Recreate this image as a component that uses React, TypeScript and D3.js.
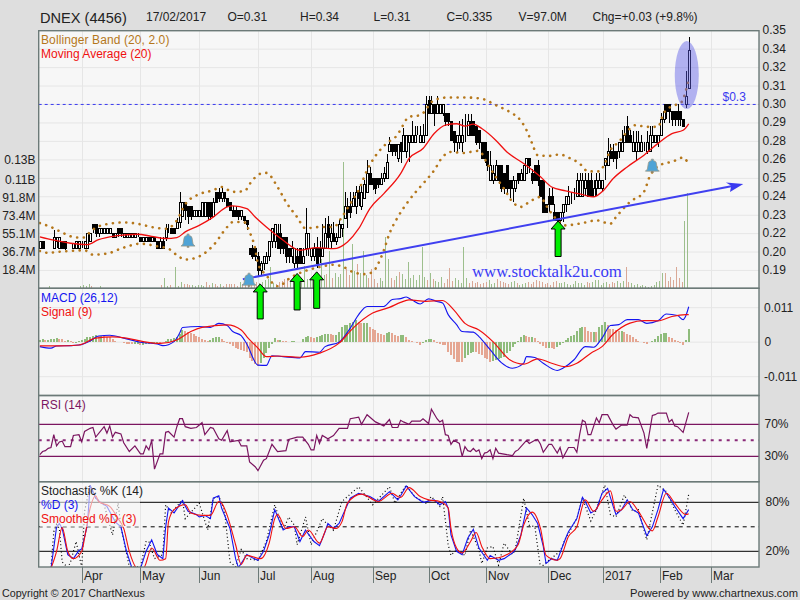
import React from "react";
import * as d3 from "d3";

// Prices are in thousandths of a ringgit (224 = 0.224)
const opens = [224,227,224,224,224,224,227,224,227,227,224,224,224,224,224,224,224,224,227,235,235,231,231,231,231,231,231,229,233,233,229,229,229,229,229,229,229,227,227,229,227,229,227,224,227,229,233,233,233,233,236,239,246,244,244,239,239,239,239,239,246,246,239,251,251,248,251,248,246,242,242,242,239,239,237,224,224,224,220,214,217,217,220,227,227,231,231,229,229,224,220,217,220,224,217,224,224,220,220,224,224,220,224,235,227,231,227,229,233,238,244,244,244,244,251,244,248,251,261,258,258,258,255,258,258,273,277,277,269,278,273,273,278,278,278,282,278,278,282,303,295,300,295,295,295,295,295,290,284,278,278,278,282,282,290,290,287,285,278,278,273,257,257,257,265,265,261,265,257,253,253,261,257,257,261,269,261,265,265,257,257,245,249,249,241,241,237,241,245,245,249,249,249,249,249,253,257,257,249,253,253,253,265,265,273,273,273,273,273,278,287,282,273,273,273,273,278,273,273,278,278,278,282,291,300,300,296,296,296,296,291,300,310];
const closes = [227,224,224,224,224,229,229,229,224,224,224,224,226,227,227,224,227,231,231,233,231,233,233,233,233,233,229,231,231,231,231,231,231,231,231,229,227,229,229,227,229,227,224,227,224,233,233,231,231,236,246,246,242,239,239,242,242,242,246,246,239,239,246,246,248,251,248,244,242,239,239,239,242,237,235,221,220,220,214,217,220,220,227,233,235,224,224,224,220,220,224,224,217,217,220,231,231,224,224,217,220,224,231,229,231,227,229,235,235,244,241,241,248,251,248,251,255,261,255,255,253,255,258,261,267,277,273,273,277,273,282,282,282,282,282,282,282,282,300,295,300,295,300,300,300,290,290,279,278,282,282,282,282,290,282,282,278,278,269,269,265,265,261,265,257,253,253,253,253,257,257,257,261,265,269,265,257,257,257,249,241,241,245,245,237,237,241,245,249,249,249,249,257,257,257,257,249,249,253,257,257,257,269,273,269,269,269,278,278,282,278,278,278,278,278,278,278,278,282,282,282,282,291,296,296,296,291,291,291,291,287,305,335];
const highs = [227,227,224,224,224,232,229,229,227,227,224,224,226,227,227,227,227,231,231,235,235,233,233,233,233,233,231,231,233,233,231,231,231,231,231,231,229,229,229,229,229,229,227,229,229,235,235,233,233,238,251,246,246,244,244,242,242,242,246,246,246,246,248,251,253,253,251,248,246,244,244,242,242,239,237,224,225,224,222,218,220,222,227,233,235,235,235,229,229,224,227,224,224,224,224,243,231,224,226,229,227,235,238,239,235,236,231,237,235,251,248,251,251,254,254,255,257,268,264,258,258,258,261,264,271,281,277,277,277,278,286,282,282,290,287,287,287,288,305,305,305,300,305,300,300,295,295,290,284,282,290,291,294,294,294,290,287,285,278,278,273,273,265,268,265,265,261,265,257,259,257,261,263,265,269,269,263,265,268,257,257,245,253,253,245,241,241,245,249,254,251,253,261,261,261,261,261,261,257,261,261,257,269,280,277,277,273,278,285,287,293,285,284,284,284,282,278,284,287,287,282,282,295,300,300,300,296,296,300,296,291,321,344];
const lows = [224,224,224,224,224,224,224,224,224,223,224,224,224,224,224,224,224,224,227,231,229,229,231,231,231,231,229,229,229,229,229,229,229,229,229,229,227,227,227,227,227,227,224,224,224,227,231,231,231,233,233,239,237,235,237,239,239,239,239,239,237,237,239,246,246,246,246,244,242,239,239,237,237,235,232,221,219,218,211,212,214,217,218,224,224,224,221,221,217,217,217,215,215,217,217,220,220,218,218,215,217,220,224,224,224,227,225,229,229,238,233,238,244,240,244,242,248,251,255,252,250,253,255,256,258,273,270,270,267,266,273,269,267,278,278,282,278,278,282,295,295,287,295,295,293,287,287,279,272,272,274,272,278,282,282,282,276,274,269,266,262,257,255,257,255,251,250,250,248,246,251,255,257,257,261,261,255,257,254,249,241,241,241,245,237,235,235,236,241,245,245,247,249,249,249,249,249,249,249,249,253,251,257,265,269,267,263,269,273,278,278,278,273,268,273,273,273,271,273,278,278,275,282,289,291,289,287,287,287,287,287,298,310];
const volumes = [0,0,0,0,2,0,0,0,0,0,0,0,0,0,0,2,3,2,4,2,0,0,2,0,0,0,0,0,0,0,0,0,0,0,0,0,0,0,0,0,0,0,0,0,3,10,2,3,0,22,2,6,4,4,3,3,2,3,3,2,6,3,5,4,2,4,2,4,4,4,4,2,6,4,3,9,5,4,6,5,6,8,9,22,5,4,6,7,9,10,7,12,8,8,10,23,9,9,12,15,14,30,14,15,38,10,16,12,15,128,20,14,45,18,25,16,38,14,10,20,9,5,10,7,52,30,10,8,13,17,15,9,27,10,14,8,14,42,12,8,16,9,7,6,11,5,9,21,7,10,8,5,42,10,5,7,5,6,4,5,6,8,4,5,9,7,6,5,4,6,7,5,3,4,5,6,4,6,8,7,6,4,5,3,6,7,5,5,6,4,3,4,7,5,5,3,6,5,6,8,8,3,5,6,4,6,5,7,5,7,22,6,5,3,4,2,3,2,1,2,3,6,7,16,16,7,11,8,22,10,6,68,97];

const bandDaysUpper = [0,4,8,13,16,18,20,25,30,36,40,45,49,52,57,62,65,69,73,76,79,81,85,88,92,95,100,105,108,111,114,117,120,124,128,129,132,136,141,146,152,158,163,169,171,174,176,178,182,186,189,193,196,200,202,204,207,211,213,217,221,223,226,229,232];
const bandUpper = [235.5,233.6,231,228.7,228.7,231.3,233.3,235.2,235.8,234.9,233.6,232.8,236.8,244.7,249.8,251.8,253.5,251,251.3,257,260.5,260.9,253.5,245.9,238.4,233,233.6,233.6,238.4,245,251.8,262.3,270.1,277.1,282.3,285,292.5,293.5,302.7,304.3,304.3,303.5,299.6,294.5,292.1,284.7,277.1,270.5,270.1,270.9,269.2,265.9,261.7,261.7,265.9,273.3,277.9,285.6,287.6,286.6,286.6,294.5,299,300.6,315.4];
const bandDaysLower = [0,3,6,11,16,19,24,30,36,42,46,49,52,57,62,67,69,73,75,77,78,81,85,90,92,100,105,108,112,116,119,121,123,125,128,132,137,141,144,147,151,157,160,163,166,169,172,175,179,181,184,188,194,199,204,206,211,216,218,220,223,226,230,232];
const bandLower = [222.5,221.6,222,222.5,222.8,220.8,221.3,224,225.8,224.6,223.5,220.6,218.6,220,225,233.6,236,236,231.3,223.5,216.8,211.7,207,211,212.2,215.3,216.3,215.6,213.1,212.2,213.1,216.8,222.8,230.5,238.4,246.7,255.2,262.3,269.5,272.3,271.7,272.9,265.9,258.8,252.6,245.9,243.4,245.9,248.4,244.2,238.4,234.4,235.5,236.8,235.2,238.4,245.9,251,258.8,263.2,265.9,266.8,269.2,265.4];
const maDays = [0,5,11,17,21,27,35,40,45,49,52,57,62,67,69,74,77,81,87,93,99,105,110,114,118,123,129,132,137,141,145,149,152,155,158,163,167,173,179,183,188,194,198,201,205,210,216,221,226,230,232];
const movingAverage = [229,227.4,226,225.4,227.7,229.4,230.2,229.2,228.2,228.6,231.3,234.4,238.4,243.4,243.9,242.6,238.4,233.6,227.4,222.8,224,223.5,226.6,232.8,242.6,250.1,260.5,268.6,274.2,282.7,287.6,288.4,287,288.2,285.6,278.9,272.3,265.9,258.8,253.5,251.5,249.6,248.4,251,257.9,264.1,270.5,277.1,282.7,284.6,288.4];

// MACD values are in thousandths
const macdDays = [0,4,6,11,14,18,21,25,30,36,42,44,48,50,51,57,61,64,67,69,72,74,78,81,83,87,93,95,100,102,107,111,114,117,123,126,129,131,133,136,139,142,144,146,149,151,155,157,161,165,169,173,174,177,180,185,187,191,195,198,201,204,207,210,214,217,221,224,228,230,231,232];
const macdLine = [-1.4,-1.9,-1.2,-1.1,-0.9,0.4,2,2.2,1.3,0,-0.6,-1.1,0.2,2.9,4.7,5,4.7,6,5.3,3.4,2.1,-0.6,-7.3,-7.4,-4.3,-4.6,-5,-3,-3.2,-1.4,0,4.5,8.8,11.4,11.4,13.6,13.9,14.4,13.5,12.2,13.8,13,12.5,8.8,5.6,3.4,3.2,1.8,-2.4,-6.5,-8.3,-6.7,-4.6,-4.9,-6.7,-9,-8.3,-5.6,-1.4,-1.6,1.3,5.3,5.6,7.2,7.2,6,6.8,9,8.5,7.2,8.5,11.3];
const signalDays = [0,7,14,20,26,31,37,43,49,54,58,67,72,74,78,81,85,93,100,107,112,119,125,129,132,138,144,148,152,157,162,168,173,178,183,188,192,197,201,205,211,216,221,226,231,232];
const signalLine = [-1.2,-1.2,-0.9,1.3,1.7,1.3,0.2,-0.4,0.7,3.4,4.7,5.5,3.9,1.8,-1.9,-4.6,-4.4,-4.8,-3.5,-0.3,4.5,9.3,11.1,12.7,13.5,13,13.3,10.3,6,3.9,0.2,-5.6,-7,-5.3,-6.7,-7.8,-6.7,-3.5,-1.4,2.6,6.1,6.9,6.8,8.2,8.8,8.8];
const macdHistogram = [0.8,0.9,0.8,0.8,0.9,1,1.2,1,0.9,0.5,0.6,0.4,-0.3,-0.2,0.5,0.7,1,1.5,1.8,2.1,2.2,2,2,1.9,1.8,1.5,1,0.5,0.2,0.2,-0.3,-0.5,-0.6,-0.7,-0.7,-0.7,-0.9,-0.8,-0.6,-0.5,-0.3,-0.3,-0.2,-0.3,0.2,0.5,1,1.1,1.3,1.5,2.5,4,3.5,3.2,3,2.6,2.1,1.5,1,0.6,0.4,0.8,1.2,1.5,1.6,1,0.5,-0.3,-0.6,-1.2,-2,-2.3,-2.6,-2.8,-3.2,-5,-6,-7,-7.5,-6.5,-5,-3.5,-2,-0.6,1.3,0.6,0.6,0.4,0.3,0.2,0.3,0.3,0.1,0.2,1,1.6,2.1,1.5,1.2,1.5,2,2.3,2.5,2.6,2.5,2.3,2.4,3.3,5,5.5,5.5,6,6.5,7,6.5,6,6,6,5,4.3,3.8,3,2.5,2.2,2.8,3.3,3,2.4,2,2.3,2.3,1.5,0.6,0.4,0.1,-0.4,-1,-0.3,0.7,1.1,1.1,0.6,-0.3,-0.5,-0.8,-1,-3,-4.2,-5.5,-6.2,-6.3,-6.4,-5,-4,-3.3,-3,-3.2,-3.7,-4,-5,-5.5,-6.4,-6,-5.8,-5.5,-5,-4.8,-3.5,-2.7,-1.5,-0.5,0.5,1.5,2.3,2,1.6,1.6,1.4,0.4,-0.5,-1.1,-1.7,-1.7,-2,-2.3,-1.5,-1,-0.2,0.7,1.2,2,2.4,3.5,4.6,4.8,4.7,3.7,3.2,3.4,3.2,4.8,5.5,6.4,5.4,4.3,4.2,4,3.7,3.7,3.2,2.7,2.2,1.6,0.9,0.5,0.1,-0.4,-0.6,0.2,0.3,1,1.9,2.6,2.9,2.9,1.8,1.4,0.8,0.4,-0.4,-0.8,0.6,4.3];

const rsiDays = [0,1,2,3,4,5,6,7,8,9,11,12,14,15,16,18,19,20,23,24,25,26,27,29,30,32,34,36,37,38,39,40,41,43,44,45,46,48,49,50,51,52,54,56,58,59,61,62,64,65,67,68,71,72,74,75,77,78,80,81,83,85,88,89,92,94,96,97,98,99,100,101,103,105,107,110,111,114,115,117,120,123,125,126,128,129,130,132,133,136,137,139,140,142,143,144,145,146,147,148,150,151,152,153,154,155,156,157,158,159,160,161,162,163,164,167,169,170,171,174,175,177,178,179,180,182,183,185,186,187,189,191,192,193,194,195,196,197,199,200,201,203,205,206,208,210,211,212,214,216,217,219,220,221,224,225,226,227,228,230,232];
const rsiValues = [32,36,37,40,41,57,43,48,49,42,42,56,57,48,61,65,66,54,67,59,68,54,60,58,47,36,43,33,33,43,38,50,14,33,33,60,61,54,67,77,77,67,65,66,72,57,66,65,52,50,62,48,50,43,43,23,17,12,25,27,45,36,37,51,54,54,45,38,38,56,46,56,52,56,65,65,77,79,70,82,73,68,76,66,66,75,73,70,74,74,77,71,89,77,73,75,57,56,45,50,46,30,42,37,36,40,36,38,27,34,35,38,27,40,34,32,31,36,38,50,46,50,51,45,35,45,45,34,41,28,41,41,35,57,75,73,57,57,78,72,82,82,69,64,69,69,82,79,78,59,40,81,82,84,84,73,76,68,67,60,85];

const stochKDays = [4,5,6,7,8,10,11,13,15,16,18,20,23,26,28,29,32,36,38,39,41,44,45,47,51,52,57,60,62,64,66,68,70,72,74,78,81,84,87,89,91,92,95,97,101,103,105,108,114,119,125,127,129,131,134,138,140,143,144,146,147,149,152,154,157,158,160,162,164,166,169,170,173,175,177,179,182,186,188,192,194,197,199,202,204,206,209,212,214,217,221,224,227,230,232];
const stochK = [0,44,53,48,7,0,7,32,0,69,101,85,77,40,79,50,1,1,32,32,11,16,77,67,83,60,79,46,85,87,71,7,1,22,11,9,32,77,46,62,52,28,62,28,60,52,46,81,99,77,99,79,91,101,87,79,87,75,87,28,15,22,15,46,22,5,24,26,3,30,16,22,85,52,50,0,9,20,36,60,85,57,71,101,65,62,89,69,71,34,101,93,71,52,90];
const stochDDays = [4,5,6,7,8,10,12,14,15,17,18,20,22,24,27,29,31,33,36,38,40,42,44,45,46,48,51,53,56,57,59,61,62,64,65,68,70,71,72,74,76,78,80,82,84,87,89,91,93,95,98,100,102,103,105,107,111,114,118,121,125,128,129,131,134,137,141,143,145,146,147,149,151,153,155,157,160,161,164,166,169,170,172,174,176,178,180,181,183,185,188,189,192,194,195,197,199,201,203,205,206,208,210,212,214,217,219,221,223,226,227,230,232];
const stochD = [-1,24,50,54,48,16,11,21,23,52,101,85,79,75,56,50,20,-1,-1,20,34,16,11,50,73,67,82,69,65,62,64,60,85,88,73,48,11,0,5,16,12,9,20,40,71,46,50,50,32,46,32,27,44,54,48,54,85,91,87,81,93,83,88,100,87,80,83,77,81,73,40,20,16,36,47,24,9,15,9,11,18,22,40,73,65,54,26,5,11,9,36,44,60,86,81,67,71,91,97,75,65,71,83,71,67,39,50,71,96,81,75,60,71];
const smoothDays = [4,6,8,10,12,15,16,18,20,21,25,28,30,32,35,37,40,43,45,46,48,52,54,58,61,64,65,67,70,72,74,79,82,84,85,88,91,94,96,100,103,106,108,110,115,121,126,128,129,132,136,139,143,146,147,149,151,154,156,158,161,164,167,171,173,176,179,181,185,186,189,192,195,198,201,204,206,208,211,214,219,221,224,227,231,232];
const smoothD = [-1,20,49,20,11,20,36,73,88,81,75,60,48,20,-1,-1,24,9,11,56,71,77,67,64,64,81,79,64,28,4,15,11,30,60,65,48,50,38,46,30,50,48,56,79,90,81,91,87,86,98,87,83,81,73,48,24,18,32,43,26,11,12,16,28,52,68,48,15,9,11,38,50,83,69,83,94,69,71,81,69,45,62,91,79,65,66];

const priceGridValues = [348.7,335.8,323.4,311.5,300,288.9,278.2,267.9,258,248.5,239.3,230.5,222,213.8];
const priceTickLabels = ["0.35","0.34","0.32","0.31","0.30","0.29","0.28","0.26","0.25","0.24","0.23","0.22","0.20","0.19"];
const volumeTickValues = [18.4,36.7,55.1,73.4,91.8,110,131];
const volumeTickLabels = ["18.4M","36.7M","55.1M","73.4M","91.8M","0.11B","0.13B"];
const monthDays = [15,36,57,78,97,119,139.2,159.4,181.6,201.5,221.7,239.8];
const monthLabels = ["Apr","May","Jun","Jul","Aug","Sep","Oct","Nov","Dec","2017","Feb","Mar"];
const macdTicks = [11,0,-11];
const macdTickLabels = ["0.011","0","-0.011"];
const rsiLevels = [70,30];
const stochLevels = [80,20];

// Annotations, as day index and price
const arrowDays = [78.8,92,99,185.3];
const arrowPrices = [208,212.5,213.2,236.5];
const arrowLengths = [35,36.5,36.5,35.5];
const bellDays = [53,74.8,219];
const bellPrices = [227,209.6,264.5];
const trendDays = [72.6,251.5];
const trendPrices = [210,255];

const SANS = "'Liberation Sans', Arial, sans-serif";
const L = 38.7, R = 759;
const xS = d3.scaleLinear().domain([0, 240]).range([39.8, 711.1]);
const yP = d3.scaleLog().domain([207, 349]).range([286.3, 30.3]);
const yV = d3.scaleLinear().domain([0, 131]).range([288.3, 159.5]);
const yM = d3.scaleLinear().domain([-11, 11]).range([376.7, 307.7]);
const yR = d3.scaleLinear().domain([30, 70]).range([456.3, 424.3]);
const yS = d3.scaleLinear().domain([20, 80]).range([551.3, 502.3]);

function path(days: number[], vals: number[], y: (v: number) => number, curve: d3.CurveFactory = d3.curveLinear) {
  const pts = days.map((d, i) => [d, vals[i]] as [number, number]);
  return d3.line<[number, number]>().x((p) => xS(p[0])).y((p) => y(p[1])).curve(curve)(pts) ?? "";
}

function Panel({ y0, y1, id }: { y0: number; y1: number; id: string }) {
  return (
    <g>
      <clipPath id={id}><rect x={L} y={y0} width={R - L} height={y1 - y0} /></clipPath>
      <rect x={L} y={y0} width={R - L} height={y1 - y0} fill="#f7f7f7" />
    </g>
  );
}

function VGrid({ y0, y1 }: { y0: number; y1: number }) {
  return (
    <g stroke="#e6e6e6" strokeWidth={1}>
      {monthDays.map((d) => <line key={d} x1={Math.round(xS(d)) + 0.5} x2={Math.round(xS(d)) + 0.5} y1={y0} y2={y1} />)}
    </g>
  );
}

function Bell({ cx, cy }: { cx: number; cy: number }) {
  return (
    <g transform={`translate(${cx},${cy})`}>
      <path d="M-7,5 L-5,3 L-4,-3 Q-4,-5 -1,-5.5 L-1,-7 L1,-7 L1,-5.5 Q4,-5 4,-3 L5,3 L7,5 Z" fill="#4fa3d6" stroke="#9a9a8a" strokeWidth={0.8} />
      <rect x={-1.2} y={5} width={2.4} height={1.6} fill="#8a8a7a" />
    </g>
  );
}

export default function App() {
  const n = closes.length;
  return (
    <svg width={800} height={600} style={{ position: "absolute", left: 0, top: 0, background: "#dedede" }} fontFamily={SANS} fontSize={12}>
      <rect width={800} height={600} fill="#dedede" />
      <Panel y0={30.7} y1={288.3} id="cMain" />
      <Panel y0={288.3} y1={395.5} id="cMacd" />
      <Panel y0={395.5} y1={481.7} id="cRsi" />
      <Panel y0={481.7} y1={567} id="cSto" />
      <VGrid y0={30.7} y1={567} />

      <g stroke="#e6e6e6">
        {priceGridValues.map((p) => <line key={p} x1={L} x2={R} y1={yP(p)} y2={yP(p)} />)}
        {macdTicks.map((t) => <line key={t} x1={L} x2={R} y1={yM(t)} y2={yM(t)} />)}
      </g>

      <g shapeRendering="crispEdges">
        {volumes.map((v, i) => (
          <rect key={i} x={xS(i) - 1.5} width={1} y={yV(v)} height={Math.max(0, yV(0) - yV(v))} fill={closes[i] >= opens[i] ? "#9dbf8d" : "#d9a896"} />
        ))}
      </g>

      <line x1={L} x2={R} y1={yP(300)} y2={yP(300)} stroke="#3a3af0" strokeDasharray="3 3" strokeWidth={1} />

      {/* candles */}
      <g clipPath="url(#cMain)">
        {d3.range(n).map((i) => {
          const up = closes[i] >= opens[i];
          const top = Math.round(yP(Math.max(opens[i], closes[i]))) + 0.5;
          const bot = Math.round(yP(Math.min(opens[i], closes[i]))) + 0.5;
          const cx = Math.round(xS(i)) + 0.5;
          return (
            <g key={i} shapeRendering="crispEdges">
              <line x1={cx} x2={cx} y1={yP(highs[i])} y2={yP(lows[i])} stroke="#000" />
              <rect x={cx - 1} y={top} width={2} height={Math.max(0, bot - top)} fill={up ? "#fff" : "#000"} stroke="#000" strokeWidth={1} />
            </g>
          );
        })}
      </g>

      <g clipPath="url(#cMain)" fill="none">
        <path d={path(bandDaysUpper, bandUpper, yP, d3.curveMonotoneX)} stroke="#b5771b" strokeWidth={2.6} strokeDasharray="0.1 6.6" strokeLinecap="round" />
        <path d={path(bandDaysLower, bandLower, yP, d3.curveMonotoneX)} stroke="#b5771b" strokeWidth={2.6} strokeDasharray="0.1 6.6" strokeLinecap="round" />
        <path d={path(maDays, movingAverage, yP, d3.curveMonotoneX)} stroke="#f01010" strokeWidth={1.3} />
      </g>

      <rect x={470} y={259} width={154} height={20} fill="#f7f7f7" opacity={0.75} />
      <text x={472} y={277} fontFamily="'Liberation Serif', serif" fontSize={16.8} fill="#3a3af5">www.stocktalk2u.com</text>

      <line x1={xS(trendDays[0])} y1={yP(trendPrices[0])} x2={xS(trendDays[1]) - 8} y2={yP(trendPrices[1]) + 1.5} stroke="#4040f0" strokeWidth={2} />
      <polygon
        transform={`translate(${xS(trendDays[1])},${yP(trendPrices[1])})`}
        points="0,0 -17.3,-1.7 -12,1.6 -13.3,8"
        fill="#3a3af0"
      />

      {bellDays.map((d, i) => <Bell key={i} cx={xS(d)} cy={yP(bellPrices[i])} />)}

      <g clipPath="url(#cMacd)">
        <g shapeRendering="crispEdges">
          {macdHistogram.map((v, i) => {
            const rising = i === 0 || v >= macdHistogram[i - 1];
            return <rect key={i} x={xS(i) - 1} width={2} y={Math.min(yM(v), yM(0))} height={Math.abs(yM(v) - yM(0))} fill={rising ? "#8fbc7c" : "#e5a692"} />;
          })}
        </g>
        <path d={path(macdDays, macdLine, yM, d3.curveMonotoneX)} fill="none" stroke="#1414f0" strokeWidth={1.1} />
        <path d={path(signalDays, signalLine, yM, d3.curveMonotoneX)} fill="none" stroke="#f01010" strokeWidth={1.2} />
      </g>

      <g clipPath="url(#cRsi)" fill="none">
        {rsiLevels.map((l) => <line key={l} x1={L} x2={R} y1={yR(l)} y2={yR(l)} stroke="#7b1560" strokeWidth={1.3} />)}
        <line x1={L} x2={R} y1={yR(50)} y2={yR(50)} stroke="#8a2a78" strokeWidth={2} strokeDasharray="3 5" />
        <path d={path(rsiDays, rsiValues, yR)} stroke="#7b1560" strokeWidth={1.2} />
      </g>

      <g clipPath="url(#cSto)" fill="none">
        {stochLevels.map((l) => <line key={l} x1={L} x2={R} y1={yS(l)} y2={yS(l)} stroke="#000" strokeWidth={1} />)}
        <line x1={L} x2={R} y1={yS(50)} y2={yS(50)} stroke="#000" strokeWidth={1} strokeDasharray="4 4" />
        <path d={path(stochKDays, stochK, yS)} stroke="#000" strokeWidth={1.2} strokeDasharray="1 2.6" />
        <path d={path(stochDDays, stochD, yS)} stroke="#1414f0" strokeWidth={1.1} />
        <path d={path(smoothDays, smoothD, yS, d3.curveMonotoneX)} stroke="#f01010" strokeWidth={1.1} />
      </g>

      <g fill="none" stroke="#6c7a78" strokeWidth={1.4}>
        <rect x={L} y={30.7} width={R - L} height={257.6} />
        <rect x={L} y={288.3} width={R - L} height={107.2} />
        <rect x={L} y={395.5} width={R - L} height={86.2} />
        <rect x={L} y={481.7} width={R - L} height={85.3} />
      </g>

      {arrowDays.map((d, i) => {
        const tx = xS(d), ty = yP(arrowPrices[i]), h = arrowLengths[i];
        return <polygon key={i} transform={`translate(${tx},${ty})`} points={`0,0 7,8 3,8 3,${h} -3,${h} -3,8 -7,8`} fill="#00ee00" stroke="#000" strokeWidth={1} />;
      })}

      <ellipse cx={xS(231.3)} cy={yP(318.5)} rx={12} ry={34} fill="#5a5ae6" opacity={0.45} />
      <text x={722.5} y={100.5} fill="#3a3af0">$0.3</text>

      <text x={40} y={23} fontSize={14.6} fill="#222">DNEX (4456)</text>
      <text x={146} y={21} fill="#222">17/02/2017</text>
      <text x={227.5} y={21} fill="#222">O=0.31</text>
      <text x={300} y={21} fill="#222">H=0.34</text>
      <text x={373.5} y={21} fill="#222">L=0.31</text>
      <text x={446.5} y={21} fill="#222">C=0.335</text>
      <text x={518.5} y={21} fill="#222">V=97.0M</text>
      <text x={592.5} y={21} fill="#222">Chg=+0.03 (+9.8%)</text>

      <text x={41} y={44} fill="#b5771b" letterSpacing={0.1}>Bollinger Band (20, 2.0)</text>
      <text x={41} y={58} fill="#f01010">Moving Average (20)</text>
      <text x={41} y={301.5} fill="#1414f0">MACD (26,12)</text>
      <text x={41} y={315.5} fill="#f01010">Signal (9)</text>
      <text x={41} y={409} fill="#7b1560">RSI (14)</text>
      <rect x={40} y={484} width={100} height={43} fill="#f7f7f7" opacity={0.6} />
      <text x={41} y={495} fill="#222">Stochastic %K (14)</text>
      <text x={41} y={509} fill="#1414f0">%D (3)</text>
      <text x={41} y={523} fill="#f01010">Smoothed %D (3)</text>

      <g fill="#222">
        {priceGridValues.map((p, i) => <text key={p} x={762.5} y={yP(p) + 3.5}>{priceTickLabels[i]}</text>)}
        {volumeTickValues.map((v, i) => <text key={v} x={35.5} y={yV(v) + 4} textAnchor="end">{volumeTickLabels[i]}</text>)}
        {macdTicks.map((t, i) => <text key={t} x={t === 0 ? 764.5 : 764} y={yM(t) + 4}>{macdTickLabels[i]}</text>)}
        <text x={764.5} y={yR(70) + 4}>70%</text>
        <text x={764.5} y={yR(30) + 4}>30%</text>
        <text x={765.5} y={yS(80) + 4}>80%</text>
        <text x={765.5} y={yS(20) + 4}>20%</text>
      </g>

      {monthDays.map((d, i) => {
        const x = Math.round(xS(d)) + 0.5;
        return (
          <g key={d}>
            <line x1={x} x2={x} y1={567} y2={583} stroke="#6c7a78" />
            <text x={x + 1.5} y={580} fill="#222">{monthLabels[i]}</text>
          </g>
        );
      })}

      <text x={2} y={597} fontSize={10.7} fill="#222">Copyright © 2017 ChartNexus</text>
      <text x={798} y={597} fontSize={11.2} textAnchor="end" fill="#222">Powered by www.chartnexus.com</text>
    </svg>
  );
}
